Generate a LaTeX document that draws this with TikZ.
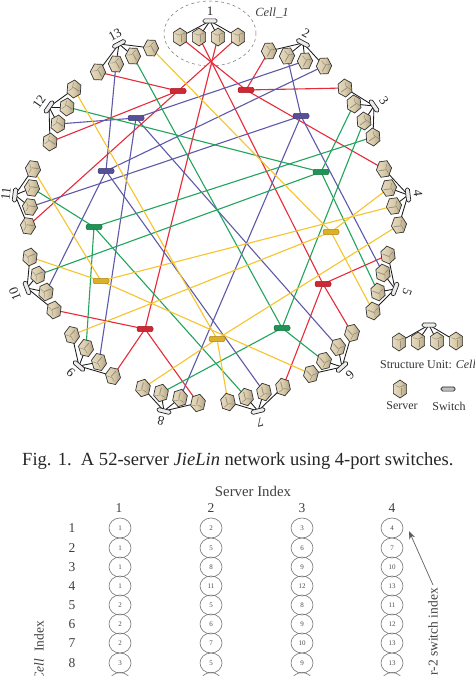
\documentclass[tikz,border=0pt]{standalone}
\usepackage{fontspec}
\setmainfont{Liberation Serif}
\usetikzlibrary{shapes.geometric,arrows.meta}
\pgfdeclarelayer{bg}
\pgfsetlayers{bg,main}
\definecolor{rd}{HTML}{E62B3A}
\definecolor{bl}{HTML}{5F5AA8}
\definecolor{gn}{HTML}{22A45E}
\definecolor{yl}{HTML}{F6C42C}
\definecolor{inkc}{HTML}{3A3A3A}
\definecolor{tan}{HTML}{DACBA8}
\tikzset{
  srv/.style={regular polygon,regular polygon sides=6,shape border rotate=30,minimum size=18pt,inner sep=0pt,
    xscale=.85,transform shape,draw=inkc!90!black,line width=.7pt,left color=tan!70!white,right color=tan!80!black,middle color=tan},
  cellsw/.style={rectangle,rounded corners=1.6pt,minimum width=14pt,minimum height=4.2pt,inner sep=0pt,draw=black!85,line width=.7pt,fill=gray!15},
  tiersw/.style={rectangle,rounded corners=2pt,minimum width=16pt,minimum height=5.4pt,inner sep=0pt,draw=#1!70!black,line width=.5pt,fill=#1!90!black},
  uplink/.style={line width=.85pt,draw=black!90},
  tierlink/.style={line width=1.1pt,draw=#1},
  lbl/.style={font=\fontsize{13}{13}\selectfont,text=black!85,inner sep=0pt},
  ring/.style={ellipse,minimum width=22pt,minimum height=20pt,inner sep=0pt,draw=black!55,line width=.6pt,text=black!70,font=\fontsize{7}{7}\selectfont},
  head/.style={font=\fontsize{13.5}{13.5}\selectfont,text=black!75,inner sep=0pt},
  legendtxt/.style={font=\fontsize{12}{12}\selectfont,text=black!80,inner sep=0pt},
  pics/srvd/.style={code={
    \fill[black!60,opacity=.55] (.6,-1.5) rectangle (1.5,5.5);
    \draw[black!55,line width=.3pt] (-4.6,-3.4) -- (-.5,-1.8) -- (5,-4);
  }}
}
\newcommand{\MakeServer}[4]{%
  \node[srv,rotate=#4] (#1) at (#2,#3) {};
  \pic[rotate=#4] at (#2,#3) {srvd};
}
\begin{document}
\begin{tikzpicture}[x=1pt,y=-1pt]
\useasboundingbox (0,0) rectangle (474,676);
\begin{pgfonlayer}{bg}
\fill[white] (0,0) rectangle (474,676);
\end{pgfonlayer}
\clip (0,0) rectangle (474,676);

% cells: index / rotation / switch / label / four servers
\foreach \k/\a/\sx/\sy/\lx/\ly/\ax/\ay/\bx/\by/\cx/\cy/\dx/\dy in {
 1/0/210/21/210/11/180/37/199/37/218/37/238/37,
 2/-28/303/43/306/33/269/51/287/56/305/61/324/66,
 3/-55/374/106/384/101/345/88/354/104/364/121/373/137,
 4/-83/408/195/418/193/384/169/389/188/394/206/399/225,
 5/-111/395/289/407/292/388/255/383/273/378/292/373/311,
 6/-138/342/367/350/375/352/333/338/347/324/361/311/374,
 7/-166/258/411/260/422/283/387/264/392/246/397/228/402,
 8/-194/164/411/161/421/198/403/180/398/161/393/143/388,
 9/-221/79/366/71/373/113/376/99/362/86/348/72/335,
 10/-249/27/288/15/294/54/310/46/292/38/275/30/257,
 11/-277/15/195/6/194/28/226/30/207/32/188/33/169,
 12/-305/49/107/39/102/50/142/58/124/67/107/74/89,
 13/-332/119/44/115/35/98/72/116/64/133/56/151/48}{
  \MakeServer{c\k s1}{\ax}{\ay}{\a}
  \MakeServer{c\k s2}{\bx}{\by}{\a}
  \MakeServer{c\k s3}{\cx}{\cy}{\a}
  \MakeServer{c\k s4}{\dx}{\dy}{\a}
  \node[cellsw,rotate=\a] (c\k sw) at (\sx,\sy) {};
  \node[lbl,rotate=\a] (c\k lab) at (\lx,\ly) {\k};
  \begin{pgfonlayer}{bg}
    \foreach \n in {1,2,3,4} \draw[uplink] (c\k sw.center) -- (c\k s\n.center);
  \end{pgfonlayer}
}

% tier-2 switches and links
\foreach \tn/\tc/\x/\y/\ep/\eq/\er/\es in {
 1/rd/246/90/c1s1/c2s1/c3s1/c4s1,
 2/rd/323/284/c1s2/c5s1/c6s1/c7s1,
 3/rd/145/329/c1s3/c8s1/c9s1/c10s1,
 4/rd/178/91/c1s4/c11s1/c12s1/c13s1,
 5/bl/301/116/c2s2/c5s2/c8s2/c11s2,
 6/bl/136/118/c2s3/c6s2/c9s2/c12s2,
 7/bl/106/171/c2s4/c7s2/c10s2/c13s2,
 8/gn/321/172/c3s2/c5s3/c10s3/c12s3,
 9/gn/282/328/c3s3/c6s3/c8s3/c13s3,
 10/gn/94/227/c3s4/c7s3/c9s3/c11s3,
 11/yl/331/232/c4s2/c5s4/c9s4/c13s4,
 12/yl/101/281/c4s3/c6s4/c10s4/c11s4,
 13/yl/217/339/c4s4/c7s4/c8s4/c12s4}{
  \node[tiersw=\tc] (t\tn) at (\x,\y) {};
  \begin{pgfonlayer}{bg}
    \foreach \e in {\ep,\eq,\er,\es} \draw[tierlink=\tc] (t\tn.center) -- (\e.center);
  \end{pgfonlayer}
}

% Cell_1 ring
\node[ellipse,draw=black!55,dashed,line width=.5pt,minimum width=92pt,minimum height=65pt,inner sep=0pt] (ringone) at (210,33.5) {};
\node[font=\fontsize{12.5}{12.5}\selectfont\itshape,text=black!75,inner sep=0pt] (ringlab) at (272,13) {Cell\_1};

% legend
\MakeServer{lg1}{399}{342}{0}
\MakeServer{lg2}{418}{341}{0}
\MakeServer{lg3}{437}{341}{0}
\MakeServer{lg4}{456}{341}{0}
\node[cellsw] (lgsw) at (429,325) {};
\begin{pgfonlayer}{bg}
  \foreach \n in {1,2,3,4} \draw[uplink] (lgsw.center) -- (lg\n.center);
\end{pgfonlayer}
\node[legendtxt,anchor=west] (lgt) at (380,364) {Structure Unit: \textit{Cell}};
\MakeServer{lgserver}{400}{389}{0}
\node[cellsw,fill=gray!50] (lgswitch) at (448,389) {};
\node[legendtxt] (lgsl) at (402,406) {Server};
\node[legendtxt] (lgwl) at (449,406) {Switch};

% caption
\node[font=\fontsize{18.55}{18.55}\selectfont,text=black!85,inner sep=0pt,anchor=west] (cap) at (22,461) {Fig. 1.\ \ A 52-server \textit{JieLin} network using 4-port switches.};

% table
\node[head,font=\fontsize{14.8}{14.8}\selectfont] (hdr) at (253,491) {Server Index};
\node[head] (h1) at (119,508) {1};
\node[head] (h2) at (211,508) {2};
\node[head] (h3) at (302,508) {3};
\node[head] (h4) at (392,508) {4};
\foreach \rw/\y/\ep/\eq/\er/\es in {1/528/1/2/3/4,2/548/1/5/6/7,3/567/1/8/9/10,4/586/1/11/12/13,5/605/2/5/8/11,6/624/2/6/9/12,7/643/2/7/10/13,8/663/3/5/9/13}{
  \node[head] (row\rw) at (72,\y) {\rw};
  \node[ring] (a\rw) at (120,\y) {\ep};
  \node[ring] (b\rw) at (211,\y) {\eq};
  \node[ring] (e\rw) at (302,\y) {\er};
  \node[ring] (f\rw) at (392,\y) {\es};
}
\node[ring] (a9) at (120,682.5) {};
\node[ring] (b9) at (211,682.5) {};
\node[ring] (e9) at (302,682.5) {};
\node[ring] (f9) at (392,682.5) {};
\node[head,rotate=90,anchor=east] (cellidx) at (39,621) {\textit{Cell}\ \ Index};
\node[head,rotate=90,anchor=east] (tierlab) at (433,588) {r-2 switch index};
\coordinate (arrfrom) at (433,585);
\coordinate (arrto) at (409,531);
\draw[-{Stealth[length=8pt,width=6pt]},draw=black!65,line width=.7pt] (arrfrom) -- (arrto);
\end{tikzpicture}
\end{document}
